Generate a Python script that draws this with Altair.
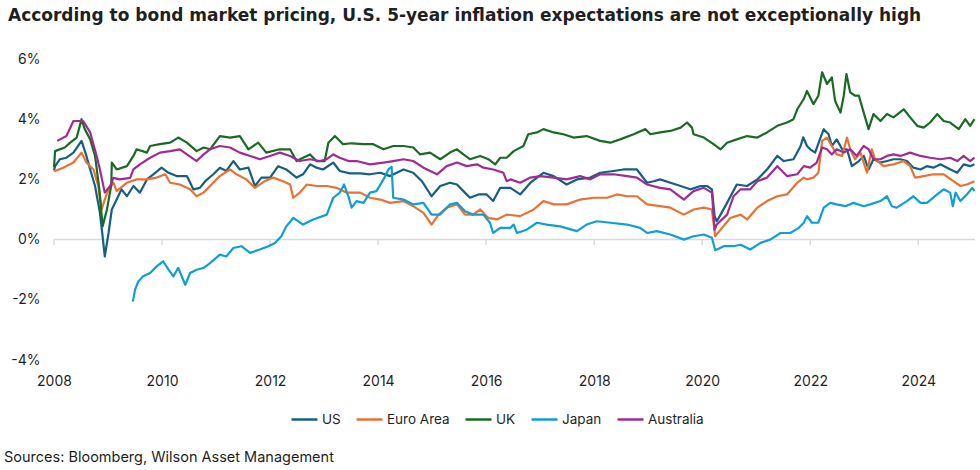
import altair as alt
import pandas as pd

# Five-year breakeven inflation, % (decimal year, value) per market
us_year = [2008.0, 2008.02, 2008.11, 2008.23, 2008.36, 2008.51, 2008.60, 2008.67, 2008.76, 2008.85, 2008.90, 2008.94,
           2009.01, 2009.07, 2009.16, 2009.25, 2009.35, 2009.47, 2009.59, 2009.72, 2009.84, 2009.99, 2010.12, 2010.27,
           2010.46, 2010.58, 2010.70, 2010.80, 2010.95, 2011.07, 2011.19, 2011.32, 2011.44, 2011.60, 2011.72, 2011.84,
           2012.00, 2012.15, 2012.30, 2012.49, 2012.61, 2012.74, 2012.86, 2012.98, 2013.17, 2013.29, 2013.48, 2013.67,
           2013.85, 2014.04, 2014.22, 2014.47, 2014.65, 2014.81, 2014.99, 2015.15, 2015.33, 2015.46, 2015.58, 2015.70,
           2015.86, 2016.01, 2016.13, 2016.26, 2016.45, 2016.63, 2016.82, 2017.06, 2017.25, 2017.49, 2017.68, 2017.93,
           2018.11, 2018.36, 2018.54, 2018.79, 2018.98, 2019.10, 2019.22, 2019.41, 2019.60, 2019.78, 2019.97, 2020.09,
           2020.18, 2020.23, 2020.27, 2020.34, 2020.46, 2020.64, 2020.83, 2021.02, 2021.20, 2021.39, 2021.51, 2021.69,
           2021.82, 2021.87, 2021.94, 2022.00, 2022.09, 2022.19, 2022.25, 2022.34, 2022.40, 2022.49, 2022.59, 2022.68,
           2022.77, 2022.90, 2022.99, 2023.08, 2023.17, 2023.30, 2023.42, 2023.54, 2023.67, 2023.79, 2023.91, 2024.04,
           2024.16, 2024.28, 2024.41, 2024.53, 2024.72, 2024.84, 2024.96, 2025.04]
us_val = [2.3, 2.44, 2.67, 2.72, 2.89, 3.28, 2.78, 2.33, 1.78, 0.89, 0.11, -0.56,
          0.22, 1.0, 1.33, 1.67, 1.44, 1.78, 1.56, 2.0, 2.17, 2.39, 2.22, 2.11,
          2.11, 1.67, 1.72, 1.94, 2.17, 2.39, 2.28, 2.61, 2.33, 2.39, 1.78, 2.06,
          2.06, 2.44, 2.33, 2.06, 2.17, 2.5, 2.39, 2.33, 2.56, 2.28, 2.2, 2.2,
          2.17, 2.22, 2.11, 2.33, 2.22, 1.94, 1.44, 1.78, 1.89, 1.83, 1.61, 1.39,
          1.5, 1.5, 1.28, 1.72, 1.72, 1.5, 1.89, 2.22, 2.11, 1.83, 2.0, 2.06,
          2.22, 2.28, 2.33, 2.33, 1.89, 1.94, 2.0, 1.89, 1.78, 1.67, 1.78, 1.78,
          1.67, 0.78, 0.61, 0.83, 1.22, 1.83, 1.78, 2.0, 2.33, 2.78, 2.61, 2.67,
          3.1, 3.4, 3.11, 3.0, 2.89, 3.39, 3.67, 3.5, 3.11, 3.33, 3.0, 3.0,
          2.44, 2.61, 2.78, 2.33, 2.67, 2.56, 2.61, 2.67, 2.67, 2.61, 2.39, 2.33,
          2.44, 2.39, 2.5, 2.39, 2.22, 2.5, 2.44, 2.5]

euro_year = [2008.0, 2008.02, 2008.17, 2008.36, 2008.51, 2008.60, 2008.73, 2008.82, 2008.88, 2008.94, 2009.01, 2009.10,
             2009.16, 2009.35, 2009.53, 2009.72, 2009.90, 2010.06, 2010.15, 2010.33, 2010.52, 2010.64, 2010.77, 2010.89,
             2011.07, 2011.26, 2011.38, 2011.56, 2011.72, 2011.90, 2012.06, 2012.24, 2012.37, 2012.43, 2012.55, 2012.68,
             2012.86, 2013.05, 2013.23, 2013.42, 2013.67, 2013.85, 2014.04, 2014.22, 2014.47, 2014.65, 2014.84, 2014.99,
             2015.12, 2015.27, 2015.46, 2015.61, 2015.76, 2015.89, 2016.04, 2016.20, 2016.38, 2016.63, 2016.88, 2017.06,
             2017.25, 2017.49, 2017.74, 2017.99, 2018.24, 2018.42, 2018.61, 2018.79, 2018.98, 2019.22, 2019.41, 2019.66,
             2019.84, 2020.03, 2020.18, 2020.24, 2020.34, 2020.52, 2020.71, 2020.83, 2021.02, 2021.20, 2021.39, 2021.57,
             2021.76, 2021.88, 2021.94, 2022.06, 2022.15, 2022.22, 2022.31, 2022.40, 2022.49, 2022.59, 2022.68, 2022.74,
             2022.83, 2022.93, 2023.05, 2023.14, 2023.20, 2023.36, 2023.54, 2023.73, 2023.85, 2023.94, 2024.10, 2024.28,
             2024.47, 2024.65, 2024.78, 2024.90, 2025.04]
euro_val = [2.3, 2.28, 2.39, 2.56, 2.89, 2.56, 2.33, 1.78, 1.0, 1.33, 1.67, 1.89,
            1.61, 1.89, 2.0, 2.0, 2.06, 2.17, 1.89, 1.83, 1.67, 1.44, 1.56, 1.78,
            2.11, 2.33, 2.17, 2.0, 1.72, 1.94, 2.06, 1.94, 1.83, 1.39, 1.56, 1.83,
            1.78, 1.78, 1.72, 1.56, 1.56, 1.39, 1.33, 1.22, 1.28, 1.11, 0.89, 0.5,
            0.83, 1.06, 1.17, 0.83, 0.83, 1.0, 0.72, 0.67, 0.83, 0.78, 1.0, 1.28,
            1.17, 1.17, 1.33, 1.39, 1.39, 1.5, 1.44, 1.44, 1.17, 1.11, 1.06, 0.83,
            1.0, 1.06, 1.0, 0.11, 0.33, 0.72, 0.83, 0.67, 1.06, 1.28, 1.44, 1.5,
            1.89, 2.06, 2.0, 2.06, 2.22, 3.28, 3.39, 3.11, 2.83, 2.78, 3.39, 3.0,
            2.67, 2.89, 2.22, 3.0, 2.67, 2.44, 2.5, 2.61, 2.44, 2.06, 2.11, 2.17,
            2.17, 1.94, 1.78, 1.83, 1.94]

uk_year = [2008.0, 2008.02, 2008.20, 2008.30, 2008.42, 2008.51, 2008.57, 2008.67, 2008.76, 2008.84, 2008.90, 2008.98,
           2009.06, 2009.07, 2009.16, 2009.35, 2009.47, 2009.53, 2009.72, 2009.78, 2009.96, 2010.15, 2010.30, 2010.46,
           2010.64, 2010.77, 2010.89, 2011.07, 2011.26, 2011.44, 2011.60, 2011.78, 2011.93, 2012.18, 2012.37, 2012.49,
           2012.61, 2012.74, 2012.86, 2013.01, 2013.08, 2013.20, 2013.35, 2013.51, 2013.73, 2013.91, 2014.10, 2014.28,
           2014.47, 2014.65, 2014.78, 2014.96, 2015.15, 2015.33, 2015.46, 2015.58, 2015.70, 2015.89, 2016.04, 2016.17,
           2016.26, 2016.38, 2016.51, 2016.69, 2016.78, 2016.94, 2017.06, 2017.25, 2017.43, 2017.62, 2017.86, 2018.11,
           2018.30, 2018.48, 2018.73, 2018.95, 2019.04, 2019.22, 2019.41, 2019.60, 2019.72, 2019.81, 2019.84, 2020.03,
           2020.21, 2020.34, 2020.46, 2020.64, 2020.83, 2021.02, 2021.20, 2021.39, 2021.57, 2021.69, 2021.76, 2021.88,
           2021.94, 2022.06, 2022.15, 2022.22, 2022.31, 2022.40, 2022.46, 2022.56, 2022.62, 2022.67, 2022.74, 2022.83,
           2022.90, 2022.99, 2023.08, 2023.17, 2023.30, 2023.42, 2023.54, 2023.73, 2023.85, 2023.98, 2024.10, 2024.22,
           2024.35, 2024.47, 2024.59, 2024.75, 2024.87, 2024.96, 2025.04]
uk_val = [2.4, 2.94, 3.06, 3.22, 3.39, 4.0, 3.67, 3.33, 2.78, 1.67, 0.44, 1.0,
          1.8, 2.56, 2.33, 2.44, 2.78, 3.0, 2.89, 3.11, 3.17, 3.22, 3.39, 3.22,
          2.94, 3.06, 3.0, 3.44, 3.39, 3.44, 3.0, 3.22, 2.89, 3.0, 3.0, 2.61,
          2.72, 2.83, 2.61, 2.61, 3.22, 3.44, 3.17, 3.2, 3.17, 3.17, 3.0, 3.11,
          3.11, 3.06, 2.83, 2.89, 2.67, 2.89, 3.0, 2.83, 2.67, 2.78, 2.67, 2.5,
          2.72, 2.72, 2.94, 3.11, 3.5, 3.56, 3.67, 3.56, 3.5, 3.39, 3.44, 3.28,
          3.22, 3.33, 3.5, 3.67, 3.5, 3.56, 3.61, 3.72, 3.89, 3.72, 3.5, 3.39,
          3.17, 3.0, 3.22, 3.33, 3.44, 3.39, 3.56, 3.78, 3.89, 4.0, 4.33, 4.67,
          4.94, 4.5, 4.78, 5.56, 5.17, 5.39, 4.61, 4.22, 4.78, 5.5, 4.89, 4.78,
          4.78, 4.22, 3.67, 4.17, 3.94, 4.17, 4.06, 4.33, 4.06, 3.78, 3.72, 3.89,
          4.17, 3.94, 3.89, 3.67, 4.0, 3.78, 4.0]

japan_year = [2009.46, 2009.50, 2009.56, 2009.65, 2009.78, 2009.90, 2010.02, 2010.12, 2010.21, 2010.30, 2010.43, 2010.52,
              2010.64, 2010.77, 2010.89, 2011.07, 2011.19, 2011.32, 2011.47, 2011.63, 2011.81, 2011.97, 2012.09, 2012.21,
              2012.30, 2012.43, 2012.61, 2012.80, 2013.05, 2013.17, 2013.29, 2013.37, 2013.45, 2013.51, 2013.60, 2013.73,
              2013.85, 2013.97, 2014.10, 2014.19, 2014.25, 2014.28, 2014.47, 2014.65, 2014.84, 2014.99, 2015.15, 2015.33,
              2015.46, 2015.61, 2015.76, 2015.95, 2016.07, 2016.13, 2016.26, 2016.45, 2016.51, 2016.57, 2016.75, 2016.94,
              2017.12, 2017.37, 2017.68, 2017.86, 2018.05, 2018.30, 2018.61, 2018.85, 2018.98, 2019.16, 2019.41, 2019.66,
              2019.84, 2020.03, 2020.18, 2020.24, 2020.40, 2020.58, 2020.71, 2020.89, 2021.08, 2021.26, 2021.45, 2021.63,
              2021.79, 2021.88, 2021.94, 2022.03, 2022.15, 2022.25, 2022.37, 2022.49, 2022.65, 2022.80, 2022.99, 2023.11,
              2023.30, 2023.42, 2023.51, 2023.60, 2023.79, 2023.91, 2024.04, 2024.16, 2024.35, 2024.47, 2024.59, 2024.64,
              2024.69, 2024.78, 2024.90, 2025.00, 2025.04]
japan_val = [-2.06, -1.67, -1.39, -1.22, -1.11, -0.89, -0.72, -1.0, -1.22, -0.94, -1.5, -1.11,
             -1.0, -0.94, -0.78, -0.5, -0.56, -0.28, -0.22, -0.44, -0.33, -0.22, -0.11, 0.11,
             0.44, 0.72, 0.5, 0.67, 0.83, 1.39, 1.56, 1.83, 1.44, 1.06, 1.28, 1.22,
             1.56, 1.61, 2.0, 2.33, 2.42, 1.39, 1.33, 1.17, 1.22, 0.83, 0.83, 1.17,
             1.22, 0.94, 0.83, 0.83, 0.56, 0.22, 0.39, 0.39, 0.5, 0.22, 0.33, 0.56,
             0.5, 0.44, 0.28, 0.5, 0.61, 0.56, 0.5, 0.39, 0.22, 0.28, 0.17, 0.0,
             0.11, 0.17, 0.06, -0.35, -0.22, -0.22, -0.17, -0.33, -0.11, 0.0, 0.22, 0.22,
             0.39, 0.56, 0.78, 0.56, 0.56, 1.06, 1.22, 1.17, 1.11, 1.22, 1.11, 1.17,
             1.28, 1.44, 1.11, 1.06, 1.28, 1.44, 1.22, 1.22, 1.5, 1.67, 1.56, 1.11,
             1.56, 1.28, 1.5, 1.72, 1.61]

aus_year = [2008.06, 2008.23, 2008.36, 2008.54, 2008.67, 2008.79, 2008.85, 2008.94, 2009.04, 2009.10, 2009.22, 2009.41,
            2009.47, 2009.59, 2009.78, 2009.96, 2010.15, 2010.33, 2010.46, 2010.64, 2010.77, 2010.89, 2011.07, 2011.26,
            2011.44, 2011.63, 2011.81, 2012.00, 2012.18, 2012.37, 2012.55, 2012.74, 2012.92, 2013.05, 2013.17, 2013.29,
            2013.45, 2013.60, 2013.85, 2014.10, 2014.28, 2014.47, 2014.65, 2014.84, 2015.09, 2015.27, 2015.46, 2015.64,
            2015.83, 2015.95, 2016.13, 2016.32, 2016.38, 2016.45, 2016.63, 2016.82, 2017.00, 2017.25, 2017.49, 2017.74,
            2017.93, 2018.11, 2018.36, 2018.61, 2018.79, 2018.98, 2019.22, 2019.41, 2019.66, 2019.84, 2020.03, 2020.18,
            2020.23, 2020.27, 2020.46, 2020.58, 2020.71, 2020.89, 2021.02, 2021.20, 2021.39, 2021.57, 2021.76, 2021.88,
            2022.00, 2022.12, 2022.22, 2022.31, 2022.40, 2022.49, 2022.62, 2022.74, 2022.86, 2022.99, 2023.08, 2023.17,
            2023.30, 2023.42, 2023.54, 2023.67, 2023.85, 2024.04, 2024.22, 2024.41, 2024.59, 2024.72, 2024.84, 2024.96,
            2025.04]
aus_val = [3.28, 3.44, 3.94, 3.94, 3.56, 2.78, 2.33, 1.56, 1.78, 2.05, 2.0, 2.05,
           2.33, 2.5, 2.72, 2.89, 2.94, 3.0, 2.83, 2.61, 2.83, 3.0, 3.11, 3.06,
           2.89, 2.78, 2.67, 2.78, 2.89, 2.78, 2.61, 2.67, 2.61, 2.67, 2.83, 2.72,
           2.61, 2.61, 2.5, 2.56, 2.61, 2.67, 2.61, 2.39, 2.17, 2.44, 2.56, 2.44,
           2.5, 2.39, 2.33, 2.22, 1.94, 2.0, 1.89, 2.06, 2.11, 2.06, 2.0, 2.11,
           2.0, 2.17, 2.17, 2.11, 2.06, 1.83, 1.72, 1.67, 1.33, 1.61, 1.72, 1.56,
           0.33, 0.5, 0.83, 1.44, 1.67, 1.67, 1.94, 2.06, 2.44, 2.11, 2.17, 2.44,
           2.39, 2.56, 3.06, 3.0, 2.83, 3.0, 2.89, 3.0, 2.78, 3.11, 3.0, 2.67,
           2.67, 2.78, 2.83, 2.78, 2.89, 2.78, 2.72, 2.67, 2.72, 2.61, 2.78, 2.61,
           2.72]

series_names = ["US", "Euro Area", "UK", "Japan", "Australia"]
series_colors = ["#156082", "#E97132", "#196B24", "#0F9ED5", "#A02B93"]
year_ticks = [2008, 2010, 2012, 2014, 2016, 2018, 2020, 2022, 2024]
pct_ticks = [-4, -2, 0, 2, 4, 6]

title_text = "According to bond market pricing, U.S. 5-year inflation expectations are not exceptionally high"
source_text = "Sources: Bloomberg, Wilson Asset Management"

frames = []
for name, years, vals in zip(series_names,
                             [us_year, euro_year, uk_year, japan_year, aus_year],
                             [us_val, euro_val, uk_val, japan_val, aus_val]):
    frames.append(pd.DataFrame({"series": name, "year": years, "value": vals}))
df = pd.concat(frames, ignore_index=True)

FONT = "Inter"
TITLE_FONT = "DejaVu Sans"
INK = "#1f1f1f"
GRID = "#d9d9d9"
W, H = 921, 301

x_scale = alt.Scale(domain=[2008, 2025.05], nice=False, zero=False)
y_scale = alt.Scale(domain=[-4, 6], nice=False, zero=False)

lines = alt.Chart(df).mark_line(strokeWidth=2.2, strokeJoin="round").encode(
    x=alt.X("year:Q", scale=x_scale,
            axis=alt.Axis(title=None, values=year_ticks, format="d", grid=False,
                          domain=False, ticks=False, labelFlush=False, labelPadding=14,
                          labelFont=FONT, labelFontSize=14, labelColor=INK)),
    y=alt.Y("value:Q", scale=y_scale,
            axis=alt.Axis(title=None, values=pct_ticks, labelExpr="datum.value + '%'",
                          grid=False, domain=False, ticks=False, labelPadding=14,
                          labelFont=FONT, labelFontSize=14, labelColor=INK)),
    color=alt.Color("series:N",
                    scale=alt.Scale(domain=series_names, range=series_colors),
                    legend=alt.Legend(title=None, orient="none", direction="horizontal",
                                      legendX=236, legendY=346,
                                      symbolType="stroke", symbolSize=676, symbolStrokeWidth=2.5,
                                      labelFont=FONT, labelFontSize=13.5, labelColor=INK,
                                      labelOffset=3, columnPadding=10)),
    order=alt.Order("year:Q"),
)

# zero line with small year ticks hanging below it
zero_line = alt.Chart(pd.DataFrame({"v": [0]})).mark_rule(color=GRID, strokeWidth=1.5).encode(
    y=alt.Y("v:Q", scale=y_scale)
)
year_marks = alt.Chart(pd.DataFrame({"year": year_ticks})).mark_rule(
    color=GRID, strokeWidth=1.5
).encode(
    x=alt.X("year:Q", scale=x_scale),
    y=alt.datum(0),
    y2=alt.datum(-0.17),
)

title = alt.Chart(pd.DataFrame({"t": [title_text]})).mark_text(
    align="left", baseline="middle", font=TITLE_FONT, fontSize=17, fontWeight="bold", color=INK
).encode(text="t:N", x=alt.value(-46), y=alt.value(-43))

source = alt.Chart(pd.DataFrame({"t": [source_text]})).mark_text(
    align="left", baseline="middle", font=FONT, fontSize=14.5, color=INK
).encode(text="t:N", x=alt.value(-50), y=alt.value(399))

chart = alt.layer(zero_line, year_marks, lines, title, source).properties(
    width=W, height=H,
    background="white",
    autosize=alt.AutoSizeParams(type="none"),
    padding={"left": 54, "top": 59, "right": 5, "bottom": 110},
).configure_view(stroke=None)

chart.save("out.html", embed_options={"renderer": "svg", "actions": False})
